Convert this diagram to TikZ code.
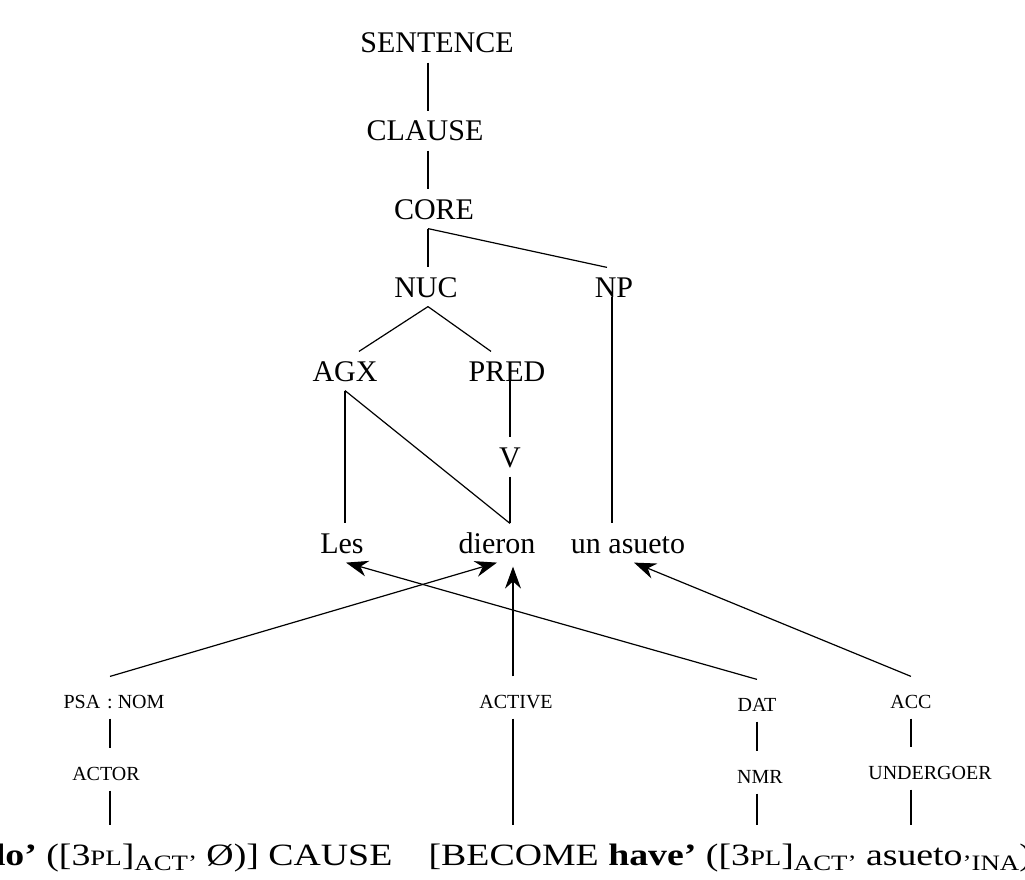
\documentclass[tikz,border=0pt]{standalone}
\usepackage{fontspec}
\setmainfont{Liberation Serif}
\newfontfamily\lffont[FakeStretch=1.22]{Liberation Serif}
\usetikzlibrary{arrows.meta}
\newcommand{\smc}[1]{{\fontsize{22}{22}\selectfont #1}}
\newcommand{\lsub}[1]{\raisebox{-5pt}{\fontsize{22}{22}\selectfont #1}}

\begin{document}
\begin{tikzpicture}[x=1pt,y=-1pt,line width=1.2pt,>={Stealth[length=22pt,width=16pt]},
  tree/.style={font=\fontsize{30}{30}\selectfont,anchor=base,text height=20pt,
    text depth=0pt,inner xsep=2pt,inner ysep=9pt},
  role/.style={font=\fontsize{20}{20}\selectfont,anchor=base,text height=21pt,
    text depth=0pt,inner xsep=2pt,inner ysep=10pt},
  lf/.style={font=\fontsize{31}{31}\lffont,text height=29pt,text depth=0pt,
    inner xsep=0pt,inner ysep=10pt}]
\useasboundingbox (0,0) rectangle (1025,880);
\coordinate (trunk) at (428,0);
% ---- layered tree ----
\node[tree] (sent) at (437,53) {SENTENCE};
\node[tree] (clause) at (425,141) {CLAUSE};
\node[tree] (core) at (434,219) {CORE};
\node[tree] (nuc) at (426,297) {NUC};
\node[tree] (np) at (614,297) {NP};
\node[tree] (agx) at (345,381) {AGX};
\node[tree] (pred) at (507,381) {PRED};
\node[tree] (v) at (510,467) {V};
% ---- the words ----
\node[tree] (les) at (342,553) {Les};
\node[tree] (dieron) at (497,553) {dieron};
\node[tree] (asueto) at (628,553) {un asueto};
% ---- case and macrorole labels ----
\node[role] (psa) at (114,708) {PSA\hspace{7pt}:\hspace{5pt}NOM};
\node[role] (actor) at (106,780) {ACTOR};
\node[role] (active) at (516,708) {ACTIVE};
\node[role] (dat) at (757,711) {DAT};
\node[role] (nmr) at (760,783) {NMR};
\node[role] (acc) at (911,708) {ACC};
\node[role] (under) at (930,779) {UNDERGOER};
% ---- logical structure ----
\node[lf,anchor=base east] (lhs) at (393,865)
  {[\textbf{do’} ([3\smc{PL}]\lsub{ACT’} Ø)] CAUSE};
\node[lf,anchor=base west] (rhs) at (428,865)
  {[BECOME \textbf{have’} ([3\smc{PL}]\lsub{ACT’} asueto\lsub{’INA})]};
% tree branches
\draw (trunk |- sent.south) -- (trunk |- clause.north);
\draw (trunk |- clause.south) -- (trunk |- core.north);
\draw (trunk |- core.south) -- (trunk |- nuc.north);
\draw (trunk |- core.south) -- ([xshift=-7pt]np.north);
\draw (trunk |- nuc.south) -- ([xshift=14pt]agx.north);
\draw (trunk |- nuc.south) -- ([xshift=-16pt]pred.north);
\draw ([xshift=-2pt]np.base) -- ([xshift=-2pt]np.base |- asueto.north);
\draw (v.north |- pred.base) -- (v.north);
\draw (v.south) -- (v.south |- dieron.north);
\draw (agx.south) -- (agx.south |- les.north);
\draw (agx.south) -- (v.south |- dieron.north);
% linking arrows
\draw[->] ([xshift=-4pt]psa.north) -- (dieron.south);
\draw[->] (dat.north) -- ([xshift=4pt]les.south);
\draw[->,shorten >=4pt] ([xshift=-3pt]active.north) -- ([xshift=-3pt]active.north |- dieron.south);
\draw[->] (acc.north) -- ([xshift=6pt]asueto.south);
% label columns
\draw ([xshift=-4pt]psa.south) -- ([xshift=4pt]actor.north);
\draw ([xshift=4pt]actor.south) -- ([xshift=4pt]actor.south |- lhs.north);
\draw ([xshift=-3pt]active.south) -- ([xshift=-3pt]active.south |- rhs.north);
\draw (dat.south) -- (dat.south |- nmr.north);
\draw (dat.south |- nmr.south) -- (dat.south |- rhs.north);
\draw (acc.south) -- (acc.south |- under.north);
\draw (acc.south |- under.south) -- (acc.south |- rhs.north);
\end{tikzpicture}
\end{document}
